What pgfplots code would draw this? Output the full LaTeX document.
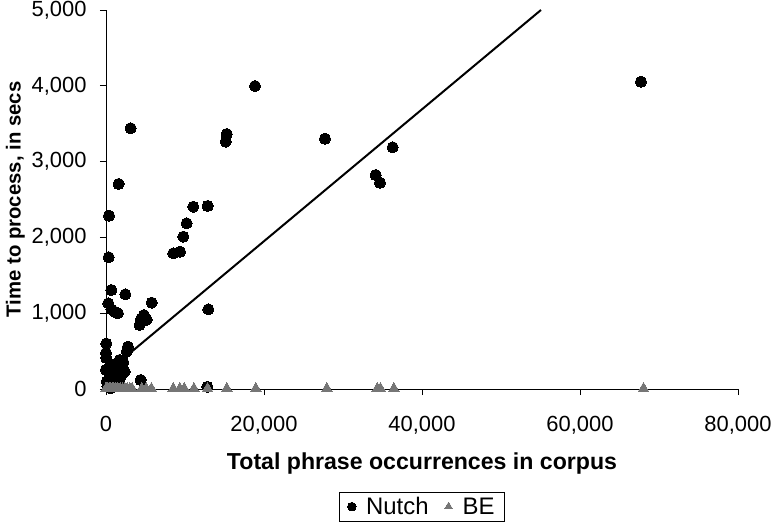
\documentclass[border=0pt]{standalone}
\usepackage{fontspec}
\setmainfont{Liberation Sans}
\usepackage{pgfplots}
\pgfplotsset{compat=1.18}
\definecolor{begray}{RGB}{118,118,118}
\begin{document}
\begin{tikzpicture}
\begin{axis}[
  scale only axis,
  width=632bp, height=379bp,
  xmin=0, xmax=80000, ymin=0, ymax=5000,
  axis lines*=left,
  axis line style={black, line width=0.8pt},
  tick align=outside,
  major tick length=6bp,
  tick style={black, line width=0.8pt},
  xtick={0,20000,40000,60000,80000},
  ytick={0,1000,2000,3000,4000,5000},
  scaled ticks=false,
  /pgf/number format/.cd, 1000 sep={,}, assume math mode=true,
  /pgfplots/.cd,
  tick label style={font=\fontsize{22}{25}\selectfont},
  xticklabel style={yshift=-18bp},
  yticklabel style={xshift=-10bp},
  xlabel={\textbf{Total phrase occurrences in corpus}},
  ylabel={\textbf{Time to process, in secs}},
  xlabel style={font=\fontsize{23.2}{26}\selectfont, yshift=-11bp},
  ylabel style={font=\fontsize{20.4}{24}\selectfont, yshift=0bp},
  clip=false,
  legend columns=-1,
  legend image code/.code={\draw[#1, line width=0pt] plot coordinates {(0bp,0bp)};},
  legend style={at={(0.5,-0.2715)}, anchor=north, draw=black, line width=0.6pt,
    font=\fontsize{24}{26}\selectfont, inner xsep=8bp, inner ysep=3bp,
    nodes={inner sep=2bp},
    /tikz/every odd column/.append style={column sep=8bp},
    /tikz/every even column/.append style={column sep=14bp}},
  legend cell align=left,
]
\addplot[only marks, mark=*, mark size=5.6bp, mark options={fill=black, draw=black}, line width=0pt,
  legend image post style={mark size=4.3bp}] coordinates {
(3120,3440) (1600,2705) (380,2287) (340,1738) (670,1306) (2450,1249)
(290,1130) (700,1050) (1100,1020) (1500,1000)
(18860,3997) (15280,3364) (15150,3263) (27720,3302) (36290,3189) (34140,2823) (34680,2722) (67720,4054)
(11050,2405) (12870,2415) (10210,2186) (9790,2010) (8520,1790) (9370,1811) (5780,1139) (12950,1051) (12830,30)
(4260,845) (4470,930) (4800,975) (5150,915)
(40,600) (0,475) (40,410) (2780,558) (2620,492) (1730,383) (1350,339) (0,255) (670,207) (2370,228)
(250,96) (1300,119) (4390,119) (300,230) (1980,185)
(100,100) (400,50) (700,150) (1000,250) (1200,200) (800,80) (500,300) (1500,280) (2200,350) (200,30) (600,10) (1300,60) (1700,120) (900,320)
};
\addlegendentry{Nutch}
\addplot[only marks, mark=triangle*, mark size=6.2bp, mark options={fill=begray, draw=begray}, line width=0pt,
  legend image post style={mark size=4.6bp}] coordinates {
(0,5) (100,5) (250,5) (400,5) (600,5) (800,5) (1000,5) (1250,5) (1500,5) (1800,5) (2100,5) (2400,5) (2700,5) (3000,5) (3300,5)
(4525,5) (5080,5) (5750,5) (8520,5) (9350,5) (9910,5) (11130,5) (12850,5) (15290,5) (18960,5) (27950,5) (34340,5) (34740,5) (36440,5) (68040,5)
};
\addlegendentry{BE}
\addplot[black, line width=2bp, forget plot] coordinates {(0,210) (55060,5000)};
\end{axis}
\pgfresetboundingbox
\path (current axis.south west) ++(-106bp,-138bp) rectangle ++(775bp,527bp);
\end{tikzpicture}
\end{document}
